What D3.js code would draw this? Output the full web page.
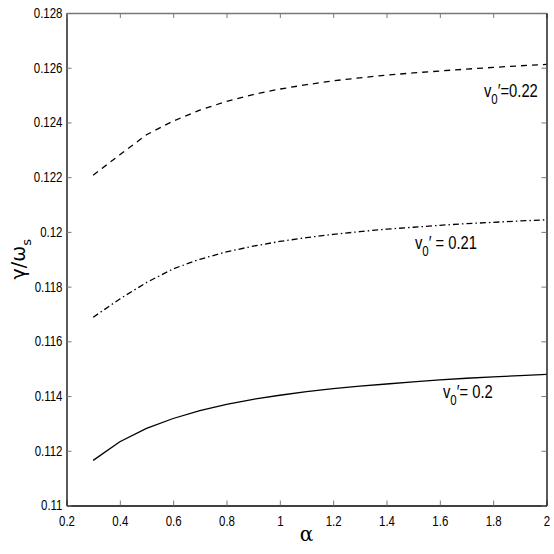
<!DOCTYPE html>
<html lang="en">
<head>
  <meta charset="UTF-8" />
  <title>gamma vs alpha</title>
  <script src="https://d3js.org/d3.v7.min.js"></script>
  <style>
    * { margin: 0; padding: 0; }
    body { background: #fff; }
    text { font-family: "Liberation Sans", Arial, sans-serif; }
  </style>
</head>
<body>
  <script>
    // data
    const alpha = [0.3, 0.4, 0.5, 0.6, 0.7, 0.8, 0.9, 1.0, 1.1, 1.2, 1.3, 1.4, 1.5, 1.6, 1.7, 1.8, 1.9, 2.0];
    const v022 = [0.12207, 0.12282, 0.12355, 0.12405, 0.12445, 0.12477, 0.12502, 0.12522, 0.12538, 0.12552, 0.12563, 0.12573, 0.12581, 0.12588, 0.12595, 0.12601, 0.12607, 0.12612];
    const v021 = [0.11688, 0.11755, 0.11815, 0.11865, 0.11900, 0.11927, 0.11948, 0.11965, 0.11979, 0.11991, 0.12001, 0.12010, 0.12017, 0.12024, 0.12030, 0.12035, 0.12040, 0.12044];
    const v020 = [0.11165, 0.11233, 0.11282, 0.11318, 0.11347, 0.11370, 0.11388, 0.11403, 0.11416, 0.11427, 0.11436, 0.11444, 0.11452, 0.11459, 0.11465, 0.11470, 0.11475, 0.11479];
    const xTicks = [0.2, 0.4, 0.6, 0.8, 1, 1.2, 1.4, 1.6, 1.8, 2];
    const yTicks = [0.11, 0.112, 0.114, 0.116, 0.118, 0.12, 0.122, 0.124, 0.126, 0.128];

    const [w, h] = [554, 554];
    const m = { left: 66.5, right: 7.5, top: 13, bottom: 48.5 };
    const sx = 0.82; // horizontal squeeze to imitate the narrow font

    const svg = d3.select('body').append('svg')
      .attr('width', w)
      .attr('height', h);

    const x = d3.scaleLinear().domain([0.2, 2]).range([m.left, w - m.right]);
    const y = d3.scaleLinear().domain([0.11, 0.128]).range([h - m.bottom, m.top]);

    const fmt = d => String(+d.toFixed(3));

    // axes, ticks pointing inwards
    svg.append('g')
      .attr('class', 'bottom')
      .attr('transform', `translate(0,${h - m.bottom})`)
      .call(d3.axisBottom(x).tickValues(xTicks).tickFormat(fmt).tickSizeInner(-5).tickSizeOuter(0).tickPadding(11));
    svg.append('g')
      .attr('class', 'left')
      .attr('transform', `translate(${m.left},0)`)
      .call(d3.axisLeft(y).tickValues(yTicks).tickFormat(fmt).tickSizeInner(-5).tickSizeOuter(0).tickPadding(4));
    svg.append('g')
      .attr('class', 'top')
      .attr('transform', `translate(0,${m.top})`)
      .call(d3.axisTop(x).tickValues(xTicks).tickFormat('').tickSizeInner(-5).tickSizeOuter(0));
    svg.append('g')
      .attr('class', 'right')
      .attr('transform', `translate(${w - m.right},0)`)
      .call(d3.axisRight(y).tickValues(yTicks).tickFormat('').tickSizeInner(-5).tickSizeOuter(0));

    svg.selectAll('.tick text').style('font-size', '14px').attr('fill', '#000')
      .attr('transform', `scale(${sx},1)`);
    svg.selectAll('.left .tick text').attr('x', -4 / sx);
    svg.selectAll('.tick line').attr('stroke', '#777');
    svg.selectAll('.domain').attr('stroke', '#000').attr('stroke-width', 1.3);
    svg.select('.top .domain').attr('stroke', '#777');

    // curves
    const line = d3.line().x(d => x(d[0])).y(d => y(d[1]));
    const series = [
      { vals: v022, dash: '6,5' },
      { vals: v021, dash: '6,3,1.5,3' },
      { vals: v020, dash: null }
    ];
    series.forEach(s => {
      svg.append('path')
        .datum(alpha.map((a, i) => [a, s.vals[i]]))
        .attr('d', line)
        .attr('fill', 'none')
        .attr('stroke', '#000')
        .attr('stroke-width', 1.3)
        .attr('stroke-dasharray', s.dash);
    });

    // curve labels
    const labels = [
      { x: 484, y: 97, txt: '=0.22' },
      { x: 415, y: 249, txt: ' = 0.21' },
      { x: 443, y: 398, txt: '= 0.2' }
    ];
    labels.forEach(l => {
      const t = svg.append('text')
        .attr('x', l.x / sx)
        .attr('y', l.y)
        .attr('transform', `scale(${sx},1)`)
        .style('font-size', '18px');
      t.append('tspan').text('v');
      t.append('tspan').attr('dy', 7).style('font-size', '14px').text('0');
      t.append('tspan').attr('dy', -7).text('′' + l.txt);
    });

    // axis titles
    svg.append('text')
      .attr('x', (m.left + w - m.right) / 2)
      .attr('y', 541)
      .attr('text-anchor', 'middle')
      .style('font-family', '"DejaVu Serif", serif')
      .style('font-size', '20px')
      .text('α');

    const yt = svg.append('text')
      .attr('transform', `translate(25,${(m.top + h - m.bottom) / 2}) rotate(-90)`)
      .attr('text-anchor', 'middle')
      .style('font-family', '"DejaVu Sans", sans-serif')
      .style('font-size', '19px');
    yt.append('tspan').text('γ/ω');
    yt.append('tspan').attr('dy', 6).style('font-size', '13px').text('s');
  </script>
</body>
</html>
